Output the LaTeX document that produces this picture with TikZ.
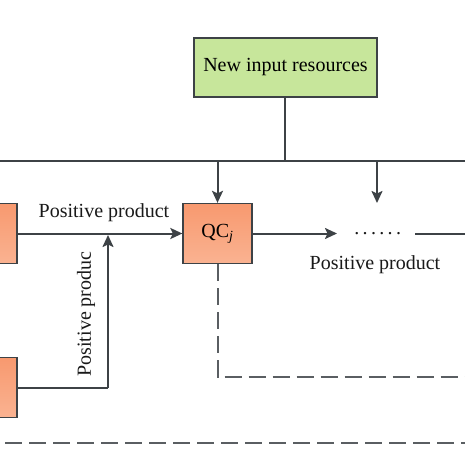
\documentclass[tikz,border=0pt]{standalone}
\usepackage{fontspec}
\setmainfont{Liberation Serif}
\usetikzlibrary{arrows.meta}
\definecolor{lineC}{HTML}{3D4246}
\definecolor{greenF}{HTML}{C7E69B}
\definecolor{orangeF}{HTML}{F9A57E}
\definecolor{orangeT}{HTML}{F8996F}
\tikzset{
  box/.style={draw=lineC, line width=1.3pt, inner sep=0pt, font=\fontsize{20}{24}\selectfont},
  greenbox/.style={box, fill=greenF},
  orangebox/.style={box, top color=orangeT, bottom color=orangeF!85!white},
  conn/.style={draw=lineC, line width=2pt},
  arr/.style={conn, -{Stealth[length=12pt,width=11pt,inset=2.5pt]}},
  dashline/.style={draw=lineC!85!white, line width=2pt, dash pattern=on 17pt off 7pt},
  lab/.style={font=\fontsize{20}{24}\selectfont, text=black!90, inner sep=0pt}
}
\begin{document}
\begin{tikzpicture}[x=1pt,y=-1pt]
\useasboundingbox (0,0) rectangle (465,465);
\clip (0,0) rectangle (465,465);
% nodes
\node[greenbox, minimum width=183pt, minimum height=59pt] (res) at (285.5,67.5) {New input resources};
\node[orangebox, minimum width=69pt, minimum height=60pt] (qc) at (217.5,233.5) {QC\textsubscript{\textit{j}}};
\node[orangebox, minimum width=67pt, minimum height=60pt] (l1) at (-16.5,233.5) {};
\node[orangebox, minimum width=67pt, minimum height=60pt] (l2) at (-16.5,387.5) {};
\node[lab] (dots) at (376,234) {\,.\,.\,.\,.\,.\,.};
% coordinates
\coordinate (busL) at (0,161);
\coordinate (busR) at (465,161);
\coordinate (bj) at (285,161);
\coordinate (b1) at (217.5,161);
\coordinate (b2) at (377,161);
\coordinate (d2) at (377,203);
\coordinate (r1) at (415,233.5);
\coordinate (r2) at (465,233.5);
\coordinate (up) at (108,387.5);
\coordinate (uptip) at (108,235);
\coordinate (dc) at (217.5,377);
\coordinate (dr) at (470,377);
\coordinate (bl) at (5,443);
\coordinate (br) at (470,443);
% connectors
\draw[conn] (res.south -| bj) -- (bj);
\draw[conn] (busL) -- (busR);
\draw[arr] (b1) -- (qc.north);
\draw[arr] (b2) -- (d2);
\draw[arr] (l1.east) -- (qc.west);
\draw[arr] (qc.east) -- (337,233.5);
\draw[conn] (r1) -- (r2);
\draw[conn] (l2.east) -- (up);
\draw[arr] (up) -- (uptip);
\draw[dashline] (qc.south) -- (dc) -- (dr);
\draw[dashline] (bl) -- (br);
% labels
\node[lab] (lp1) at (104,213) {Positive product};
\node[lab] (lp2) at (375,265) {Positive product};
\node[lab, rotate=90] (lp3) at (86,314) {Positive produc};
\end{tikzpicture}
\end{document}
